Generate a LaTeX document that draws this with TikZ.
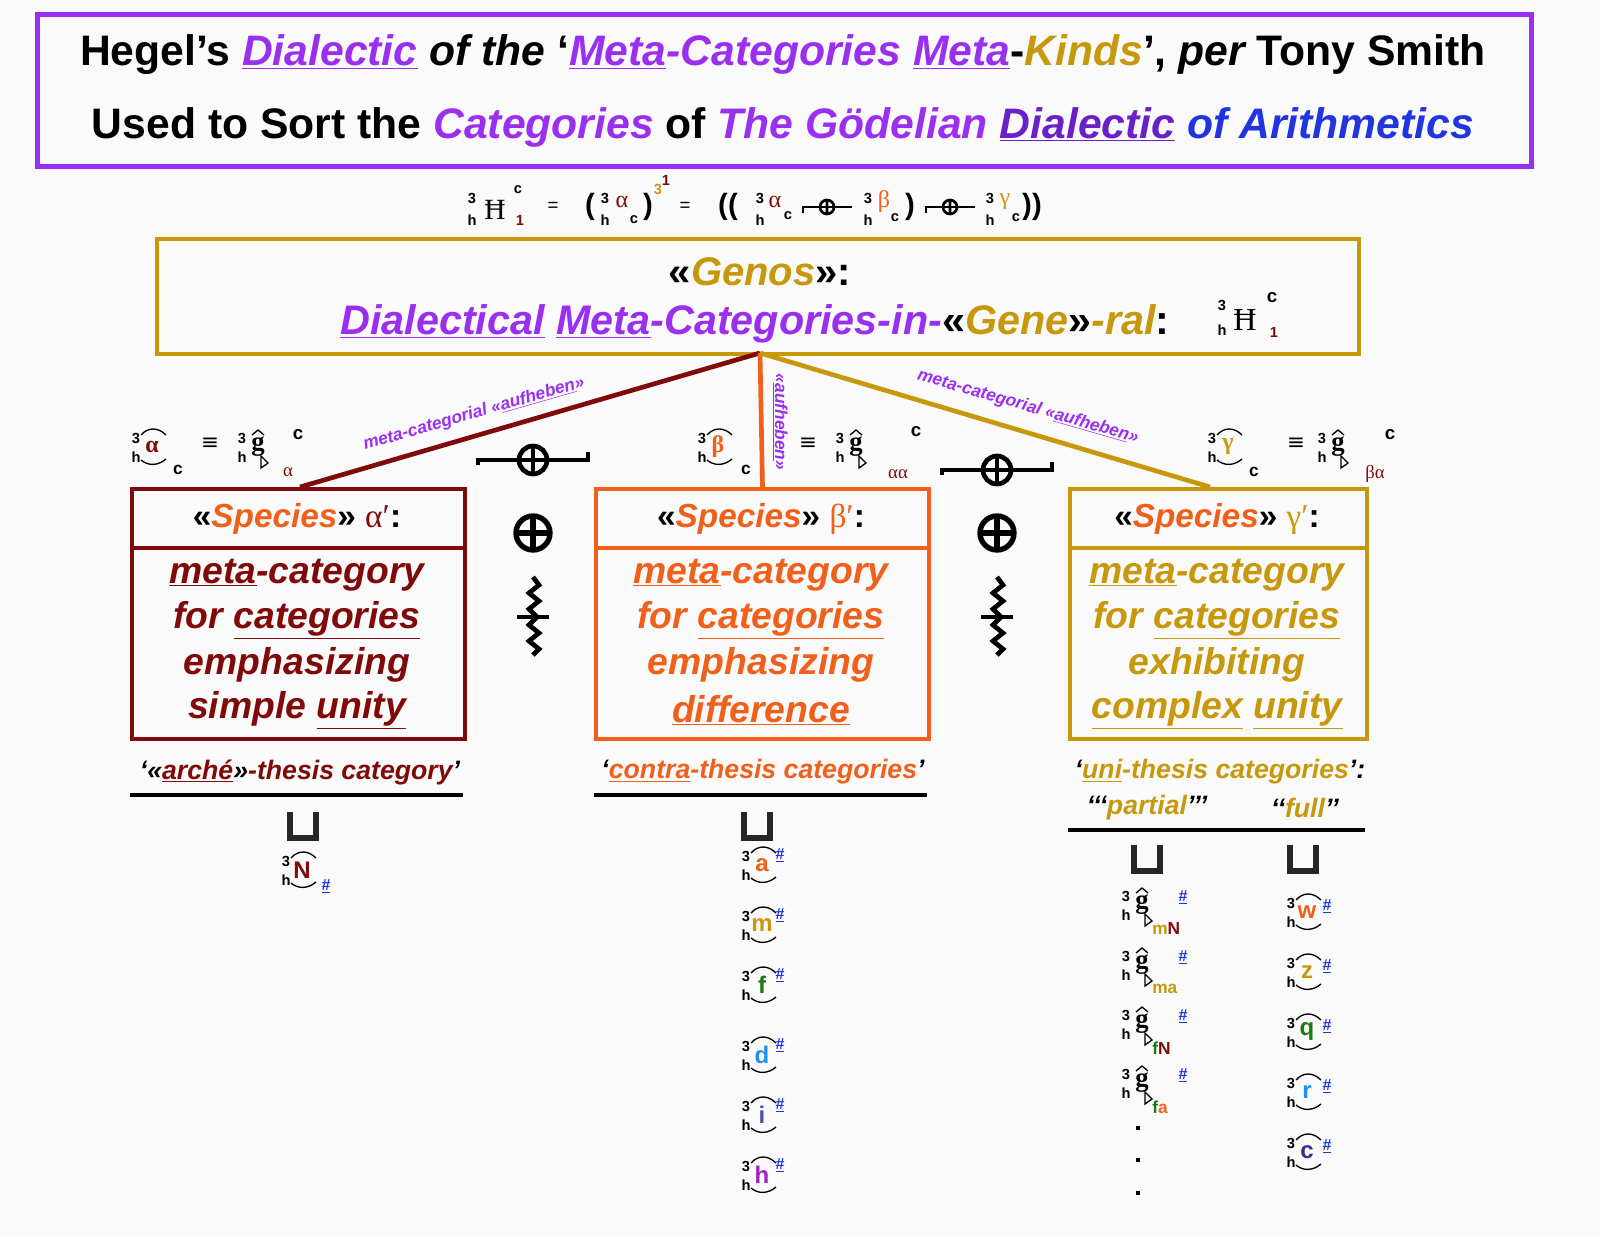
\documentclass[tikz,border=0pt]{standalone}
\usepackage{fontspec}
\setmainfont{Liberation Sans}
\newfontfamily\serf{Liberation Serif}
\newfontfamily\djv{DejaVu Sans}
\begin{document}
\definecolor{pur}{HTML}{9B2FF0}
\definecolor{dpur}{HTML}{6A20C8}
\definecolor{blu}{HTML}{2034E0}
\definecolor{gld}{HTML}{C8980C}
\definecolor{org}{HTML}{F0601A}
\definecolor{drd}{HTML}{800A0A}
\definecolor{grn}{HTML}{1A7A10}
\definecolor{sky}{HTML}{2090F0}
\definecolor{slt}{HTML}{5050B0}
\definecolor{vio}{HTML}{A020C0}
\definecolor{nav}{HTML}{303090}
\newcommand\fs[1]{\fontsize{#1}{#1}\selectfont}
\newcommand\ul[1]{\underline{#1}}
\newcommand\hs{\textcolor{blu}{\underline{\#}}}
\begin{tikzpicture}[x=0.75pt,y=-0.75pt,
  lt/.style={font=\bfseries\fs{11}, inner sep=0pt},
  ttl/.style={font=\bfseries\fs{32}, inner sep=0pt},
  body/.style={font=\bfseries\itshape\fs{28}, inner sep=0pt, text=#1},
  hdr/.style={font=\bfseries\fs{25}, inner sep=0pt},
  lab/.style={font=\bfseries\itshape\fs{20}, inner sep=0pt, text=#1},
  auf/.style={font=\bfseries\itshape\fs{13}, inner sep=0pt, text=pur},
  box/.style={draw=#1, line width=3, inner sep=0pt},
  cup/.style={line width=4.5, draw=black!85},
  pics/hg/.style n args={2}{code={
    \node[lt] (-s3) at (-16,-9) {3};
    \node[lt] (-h) at (-16,10) {h};
    \node[font=\bfseries\fs{18}, text=#1, inner sep=0pt] (-l) at (0,0) {#2};
    \draw[line width=1] (-11,-12) .. controls (-4,-20) and (6,-20) .. (14,-12);
    \draw[line width=1] (-11,13) .. controls (-4,19) and (6,19) .. (14,12);
  }},
  pics/gg/.style={code={
    \node[lt] (-s3) at (-16,-9) {3};
    \node[lt] (-h) at (-16,10) {h};
    \node[font=\serf\bfseries\fs{20}, inner sep=0pt] (-l) at (0,0) {g};
    \draw[line width=1] (-6,-12) -- (0,-17) -- (6,-12);
    \draw[line width=1] (3,9) -- (10,16) -- (3,21) -- cycle;
  }},
  pics/oplus/.style={code={
    \draw[line width=3.5] (-55,5) -- (-55,0) -- (55,0) -- (55,-8);
    \draw[line width=3.5] (0,0) circle (14);
    \draw[line width=3.5] (0,-14) -- (0,14);
  }},
  pics/ocirc/.style={code={
    \draw[line width=4] (0,0) circle (17);
    \draw[line width=4] (0,-17) -- (0,17) (-17,0) -- (17,0);
  }},
  pics/zz/.style={code={
    \draw[line width=3.5] (0,-38) -- (6,-30) -- (-4,-22) -- (6,-14) -- (-4,-6) -- (4,2) -- (-4,10) -- (6,18) -- (-4,26) -- (6,34) -- (0,40);
    \draw[line width=3] (-16,2) -- (16,2);
  }}
]
\useasboundingbox[fill=black!2] (0,0) rectangle (1600,1236);

% title
\node[box=pur, line width=4, minimum width={1494*0.75}, minimum height={152*0.75}, anchor=north west] (title) at (35,12) {};
\node[ttl] (t1) at (783,55) {Hegel’s \textcolor{pur}{\itshape\ul{Dialectic}} {\itshape of the} ‘\textcolor{pur}{\itshape\ul{Meta}-Categories \ul{Meta}}-\textcolor{gld}{\itshape Kinds}’, {\itshape per} Tony Smith};
\node[ttl] (t2) at (783,127) {Used to Sort the \textcolor{pur}{\itshape Categories} of \textcolor{pur}{\itshape The Gödelian} \textcolor{dpur}{\itshape\ul{Dialectic}} \textcolor{blu}{\itshape of Arithmetics}};

% formula row
\node[font=\serf\fs{22}, inner sep=0pt] (fH) at (495,210) {Ħ};
\node[lt] (f3) at (472,198) {3};
\node[lt] (fh) at (472,220) {h};
\node[lt] (fc) at (518,190) {c};
\node[lt, text=drd] (f1) at (520,220) {1};
\node[font=\fs{14}, inner sep=0pt] (feq1) at (553,207) {=};
\node[font=\bfseries\fs{22}, inner sep=0pt] (fl1) at (590,207) {(};
\node[lt] (f3a) at (605,198) {3};\node[lt] (fha) at (605,220) {h};
\node[font=\serf\fs{18}, text=drd, inner sep=0pt] (fa) at (622,202) {α};
\node[lt] (fca) at (634,220) {c};
\node[font=\bfseries\fs{22}, inner sep=0pt] (fr1) at (648,207) {)};
\node[lt, text=gld] (fe3) at (658,189) {3};
\node[lt, text=drd] (fe1) at (666,180) {1};
\node[font=\fs{14}, inner sep=0pt] (feq2) at (685,207) {=};
\node[font=\bfseries\fs{22}, inner sep=0pt] (fl2) at (728,207) {((};
\node[lt] (f3b) at (760,198) {3};\node[lt] (fhb) at (760,220) {h};
\node[font=\serf\fs{18}, text=drd, inner sep=0pt] (fb) at (775,202) {α};
\node[lt] (fcb) at (788,216) {c};
\draw[line width=2] (803,213) -- (803,207) -- (852,207);
\draw[line width=2] (827,207) circle (7) (827,200) -- (827,214);
\node[lt] (f3c) at (868,198) {3};\node[lt] (fhc) at (868,220) {h};
\node[font=\serf\fs{18}, text=org, inner sep=0pt] (fbe) at (884,202) {β};
\node[lt] (fcc) at (895,218) {c};
\node[font=\bfseries\fs{22}, inner sep=0pt] (fr2) at (910,207) {)};
\draw[line width=2] (926,213) -- (926,207) -- (975,207);
\draw[line width=2] (950,207) circle (7) (950,200) -- (950,214);
\node[lt] (f3d) at (990,198) {3};\node[lt] (fhd) at (990,220) {h};
\node[font=\serf\fs{18}, text=gld, inner sep=0pt] (fga) at (1005,202) {γ};
\node[lt] (fcd) at (1016,218) {c};
\node[font=\bfseries\fs{22}, inner sep=0pt] (fr3) at (1032,207) {))};

% genos
\node[box=gld, minimum width={1202*0.75}, minimum height={115*0.75}, anchor=north west] (genos) at (155,237) {};
\node[font=\bfseries\fs{30}, inner sep=0pt] (g1) at (760,272) {«\textcolor{gld}{\itshape Genos}»:};
\node[font=\bfseries\fs{31}, inner sep=0pt] (g2) at (755,324) {\textcolor{pur}{\itshape\ul{Dialectical} \ul{Meta}-Categories-in-}«\textcolor{gld}{\itshape Gene}»\textcolor{gld}{\itshape-ral}:};
\node[font=\serf\fs{24}, inner sep=0pt] (gH) at (1245,320) {Ħ};
\node[lt] (gH3) at (1222,305) {3};\node[lt] (gHh) at (1222,330) {h};
\node[lt, font=\bfseries\fs{14}] (gHc) at (1272,298) {c};\node[lt,text=drd] (gH1) at (1274,332) {1};
\coordinate (top) at (760,353);

% boxes
\node[box=drd, minimum width={333*0.75}, minimum height={250*0.75}, anchor=north west] (bA) at (130,487) {};
\node[box=org, minimum width={333*0.75}, minimum height={250*0.75}, anchor=north west] (bB) at (594,487) {};
\node[box=gld, minimum width={297*0.75}, minimum height={250*0.75}, anchor=north west] (bC) at (1068,487) {};
\draw[drd, line width=3] (bA.west |- 0,548) -- (bA.east |- 0,548);
\draw[org, line width=3] (bB.west |- 0,548) -- (bB.east |- 0,548);
\draw[gld, line width=3] (bC.west |- 0,548) -- (bC.east |- 0,548);

\draw[drd, line width=3.5] (top) -- (300,487);
\draw[org, line width=3.5] (top) -- (bB.north);
\draw[gld, line width=3.5] (top) -- (1210,487);
\node[auf, rotate=16] (aL) at (474,414) {meta-categorial «\ul{aufheben}»};
\node[auf, rotate=-16] (aR) at (1028,407) {meta-categorial «\ul{aufheben}»};
\node[auf, rotate=-90] (aM) at (780,422) {«\ul{aufheben}»};

\node[hdr] (hA) at (297,519) {«\textcolor{org}{\itshape Species}» \textcolor{drd}{\serf\mdseries α′}:};
\node[hdr] (hB) at (761,519) {«\textcolor{org}{\itshape Species}» \textcolor{org}{\serf\mdseries β′}:};
\node[hdr] (hC) at (1217,519) {«\textcolor{org}{\itshape Species}» \textcolor{gld}{\serf\mdseries γ′}:};

\node[body=drd] (a1) at (297,575) {\ul{meta}-category};
\node[body=drd] (a2) at (297,620) {for \ul{categories}};
\node[body=drd] (a3) at (297,665) {emphasizing};
\node[body=drd] (a4) at (297,710) {simple \ul{unity}};
\node[body=org] (b1) at (761,575) {\ul{meta}-category};
\node[body=org] (b2) at (761,620) {for \ul{categories}};
\node[body=org] (b3) at (761,665) {emphasizing};
\node[body=org] (b4) at (761,710) {\ul{difference}};
\node[body=gld] (c1) at (1217,575) {\ul{meta}-category};
\node[body=gld] (c2) at (1217,620) {for \ul{categories}};
\node[body=gld] (c3) at (1217,665) {exhibiting};
\node[body=gld] (c4) at (1217,710) {\ul{complex} \ul{unity}};

% operators between boxes
\pic at (533,460) {oplus};
\pic at (533,533) {ocirc};
\pic at (533,615) {zz};
\pic at (997,470) {oplus};
\pic at (997,533) {ocirc};
\pic at (997,615) {zz};

% definitions row
\pic (dA) at (152,447) {hg={drd}{\serf α}};
\node[font=\djv\fs{16}, inner sep=0pt] (eqA) at (210,444) {≡};
\pic (gA) at (258,447) {gg};
\node[lt, font=\bfseries\fs{14}] (cA) at (298,435) {c};
\node[font=\serf\fs{14}, text=drd, inner sep=0pt] (sA) at (288,472) {α};
\node[lt, font=\bfseries\fs{13}] (ccA) at (178,470) {c};

\pic (dB) at (718,447) {hg={org}{\serf β}};
\node[lt, font=\bfseries\fs{13}] (ccB) at (746,470) {c};
\node[font=\djv\fs{16}, inner sep=0pt] (eqB) at (808,444) {≡};
\pic (gB) at (856,447) {gg};
\node[lt, font=\bfseries\fs{14}] (cB) at (916,432) {c};
\node[font=\serf\fs{14}, text=drd, inner sep=0pt] (sB) at (898,474) {αα};

\pic (dC) at (1228,447) {hg={gld}{\serf γ}};
\node[lt, font=\bfseries\fs{13}] (ccC) at (1254,472) {c};
\node[font=\djv\fs{16}, inner sep=0pt] (eqC) at (1296,444) {≡};
\pic (gC) at (1338,447) {gg};
\node[lt, font=\bfseries\fs{14}] (cC) at (1390,435) {c};
\node[font=\serf\fs{14}, text=drd, inner sep=0pt] (sC) at (1375,474) {βα};

% labels
\node[lab=drd] (lA) at (300,772) {\textcolor{black}{‘«}\ul{arché}\textcolor{black}{»}-thesis category\textcolor{black}{’}};
\node[lab=org] (lB) at (763,772) {\textcolor{black}{‘}\ul{contra}-thesis categories\textcolor{black}{’}};
\node[lab=gld] (lC) at (1220,772) {\textcolor{black}{‘}\ul{uni}-thesis categories\textcolor{black}{’:}};
\node[lab=gld] (lC1) at (1147,808) {\textcolor{black}{‘‘‘}partial\textcolor{black}{’’’}};
\node[lab=gld] (lC2) at (1305,808) {\textcolor{black}{‘‘}full\textcolor{black}{’’}};
\draw[line width=2.5] (130,795) -- (463,795);
\draw[line width=2.5] (594,795) -- (927,795);
\draw[line width=2.5] (1068,830) -- (1365,830);

% cups
\draw[cup] (290,812) -- (290,838) -- (316,838) -- (316,812);
\draw[cup] (744,812) -- (744,838) -- (770,838) -- (770,812);
\draw[cup] (1134,845) -- (1134,871) -- (1160,871) -- (1160,845);
\draw[cup] (1290,845) -- (1290,871) -- (1316,871) -- (1316,845);

% left item
\pic (iN) at (302,870) {hg={drd}{N}};
\node[lt, font=\bfseries\fs{12}] (hN) at (326,886) {\hs};

% middle items
\foreach \y/\c/\l [count=\i] in {865/org/a, 925/gld/m, 985/grn/f, 1055/sky/d, 1115/slt/i, 1175/vio/h}{
  \pic (m\i) at (762,\y) {hg={\c}{\l}};
  \node[lt, font=\bfseries\fs{12}] (mh\i) at (780,\y-10) {\hs};
}

% right partial
\foreach \y/\s [count=\i] in {905/{\textcolor{gld}{m}\textcolor{drd}{N}}, 965/{\textcolor{gld}{ma}}, 1024/{\textcolor{grn}{f}\textcolor{drd}{N}}, 1083/{\textcolor{grn}{f}\textcolor{org}{a}}}{
  \pic (p\i) at (1142,\y) {gg};
  \node[font=\bfseries\fs{13}, inner sep=0pt, anchor=west] (ps\i) at (1152,\y+24) {\s};
  \node[lt, font=\bfseries\fs{12}] (ph\i) at (1183,\y-8) {\hs};
}
\foreach \y [count=\i] in {1128,1160,1193}{
  \node[fill=black, inner sep=0pt, minimum size=3] (dot\i) at (1138,\y) {};
}

% right full
\foreach \y/\c/\l [count=\i] in {912/org/w, 972/gld/z, 1032/grn/q, 1092/sky/r, 1152/nav/c}{
  \pic (r\i) at (1307,\y) {hg={\c}{\l}};
  \node[lt, font=\bfseries\fs{12}] (rh\i) at (1327,\y-6) {\hs};
}
\end{tikzpicture}
\end{document}
